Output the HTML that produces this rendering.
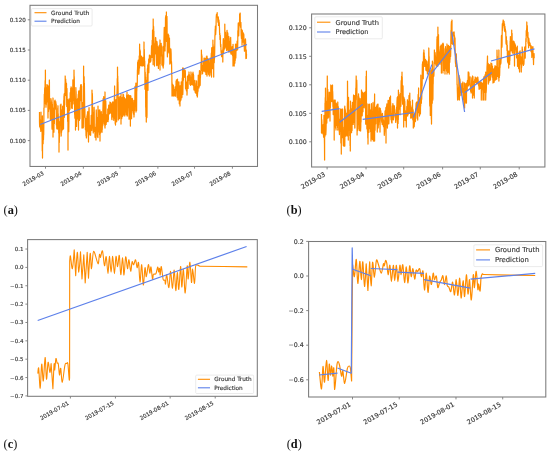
<!DOCTYPE html>
<html><head><meta charset="utf-8"><style>
html,body{margin:0;padding:0;background:#fff;width:550px;height:456px;overflow:hidden}
svg{display:block}
text{font-family:"DejaVu Sans","Liberation Sans",sans-serif;fill:#383838;stroke:#383838;stroke-width:0.15px}
text.lab{font-family:"Liberation Serif",serif;font-weight:normal;font-size:12.3px;fill:#111;stroke:none}
.lb{font-weight:bold}
</style></head><body>
<svg width="550" height="456" viewBox="0 0 550 456">
<defs>
<clipPath id="ca"><rect x="30" y="5" width="228" height="161.5"/></clipPath>
<clipPath id="cb"><rect x="311.6" y="13.7" width="233.6" height="153.3"/></clipPath>
<clipPath id="cc"><rect x="27.6" y="239.6" width="229.8" height="156.7"/></clipPath>
<clipPath id="cd"><rect x="308.6" y="241.5" width="237.2" height="155.5"/></clipPath>
</defs>
<g clip-path="url(#ca)">
<polyline points="39.50,112.00 39.50,121.66 39.62,125.67 39.74,126.91 39.86,119.76 39.98,124.69 40.10,126.79 40.22,123.44 40.34,126.52 40.46,128.15 40.58,129.25 40.70,128.75 40.82,131.36 40.94,126.13 41.00,112.00 41.06,125.43 41.18,123.08 41.30,128.67 41.42,129.88 41.54,128.19 41.66,121.92 41.78,120.83 41.90,122.55 42.02,121.09 42.14,138.04 42.26,151.07 42.38,115.81 42.50,133.14 42.50,158.00 42.62,129.98 42.74,124.14 42.86,126.82 42.98,128.81 43.10,143.71 43.22,128.66 43.34,123.61 43.46,139.82 43.58,135.16 43.70,134.68 43.82,126.02 43.94,107.89 44.06,108.00 44.18,107.28 44.30,94.32 44.42,95.66 44.54,93.96 44.66,89.26 44.78,87.52 44.90,87.99 45.02,87.74 45.14,80.51 45.26,88.27 45.38,100.08 45.40,70.00 45.50,104.00 45.62,91.88 45.74,102.59 45.86,95.52 45.98,107.19 46.10,92.93 46.22,104.92 46.34,104.07 46.46,89.63 46.58,87.66 46.70,89.90 46.82,94.24 46.94,84.55 47.06,88.84 47.18,92.57 47.30,88.86 47.42,92.98 47.54,101.96 47.66,85.25 47.78,90.05 47.90,103.93 48.00,118.00 48.02,100.80 48.14,92.47 48.26,100.73 48.38,103.01 48.50,111.59 48.62,106.45 48.74,90.04 48.86,89.68 48.98,85.78 49.10,95.21 49.22,97.38 49.34,80.77 49.40,80.00 49.46,90.63 49.58,101.66 49.70,109.08 49.82,101.88 49.94,102.31 50.06,107.28 50.18,111.85 50.30,118.70 50.42,119.66 50.54,117.35 50.66,114.07 50.78,119.40 50.90,98.52 51.02,99.50 51.14,101.97 51.26,100.50 51.38,105.50 51.50,102.18 51.62,110.45 51.74,110.00 51.86,116.54 51.98,127.72 52.10,129.11 52.22,119.72 52.34,104.58 52.46,124.04 52.58,122.51 52.70,114.81 52.82,117.02 52.94,115.24 53.00,98.00 53.00,137.00 53.06,125.52 53.18,124.68 53.30,123.71 53.42,114.73 53.54,120.03 53.66,108.28 53.78,116.34 53.90,132.19 54.02,114.19 54.14,109.03 54.26,115.99 54.38,123.44 54.50,112.58 54.62,100.94 54.74,108.26 54.86,101.34 54.98,101.46 55.10,100.18 55.22,107.07 55.34,104.60 55.46,108.79 55.58,108.29 55.70,101.50 55.82,101.98 55.94,108.02 56.06,109.49 56.18,103.89 56.30,108.97 56.42,125.04 56.54,124.15 56.66,123.37 56.78,128.56 56.90,123.53 57.02,121.11 57.14,126.11 57.26,129.17 57.38,115.90 57.50,126.51 57.62,119.72 57.74,108.04 57.86,108.45 57.98,105.75 58.10,128.49 58.22,113.67 58.34,117.45 58.46,118.17 58.58,119.49 58.70,132.95 58.82,129.57 58.94,121.05 59.00,152.00 59.06,125.20 59.18,134.89 59.30,142.60 59.42,132.31 59.54,133.99 59.66,124.93 59.78,123.12 59.90,122.19 60.02,123.60 60.14,123.06 60.26,124.99 60.38,104.77 60.50,116.62 60.62,110.61 60.74,109.51 60.86,117.96 60.98,132.45 61.00,104.00 61.10,136.13 61.22,135.77 61.34,124.11 61.46,123.93 61.58,132.26 61.70,119.41 61.82,111.93 61.94,113.83 62.06,110.06 62.18,112.90 62.30,109.63 62.42,121.83 62.54,129.85 62.66,106.16 62.78,108.24 62.90,115.45 63.02,124.71 63.14,124.47 63.26,127.61 63.38,115.51 63.50,128.92 63.62,112.88 63.74,100.40 63.86,104.21 63.98,95.87 64.10,95.92 64.22,93.81 64.34,117.30 64.46,103.14 64.58,98.70 64.70,105.13 64.82,95.33 64.94,91.91 65.06,84.03 65.18,82.97 65.20,76.00 65.30,84.74 65.42,80.80 65.54,80.78 65.66,79.01 65.78,83.12 65.90,81.80 66.02,95.50 66.14,92.36 66.26,92.29 66.38,84.96 66.50,83.43 66.62,96.68 66.74,106.50 66.86,91.53 66.98,88.44 67.10,97.56 67.22,106.58 67.34,102.59 67.46,106.69 67.58,115.74 67.70,121.48 67.82,99.77 67.94,116.03 68.00,150.00 68.06,105.71 68.18,100.58 68.30,104.44 68.42,103.46 68.54,108.31 68.66,104.14 68.78,131.64 68.90,120.86 69.02,98.94 69.14,109.27 69.26,105.23 69.38,110.39 69.50,106.47 69.62,106.41 69.74,109.59 69.86,100.30 69.98,109.30 70.10,103.16 70.22,92.73 70.34,95.03 70.46,101.54 70.58,98.84 70.70,88.46 70.82,97.72 70.94,94.95 71.06,86.88 71.18,89.27 71.30,94.47 71.42,95.76 71.54,95.80 71.66,108.06 71.78,95.48 71.90,88.04 72.02,93.87 72.14,99.84 72.26,108.45 72.38,98.27 72.50,88.79 72.62,101.41 72.74,100.57 72.86,79.90 72.98,90.73 73.10,103.95 73.22,96.55 73.34,92.31 73.46,100.30 73.58,85.54 73.70,93.68 73.82,97.15 73.94,85.73 74.00,70.00 74.06,76.79 74.18,76.35 74.30,78.61 74.42,98.14 74.54,101.26 74.66,114.25 74.78,115.26 74.90,118.21 75.02,104.52 75.14,115.17 75.26,117.23 75.38,111.39 75.50,102.16 75.50,130.00 75.62,100.79 75.74,95.17 75.86,87.60 75.98,92.74 76.10,91.59 76.22,112.54 76.34,112.41 76.46,116.16 76.58,126.41 76.70,121.11 76.82,121.41 76.94,113.89 77.06,105.68 77.18,102.44 77.30,102.08 77.42,98.98 77.54,99.76 77.66,102.82 77.78,118.85 77.90,116.96 78.02,108.89 78.14,98.50 78.26,95.17 78.38,94.02 78.50,96.90 78.50,130.00 78.62,92.24 78.74,91.76 78.86,90.76 78.98,103.79 79.10,117.53 79.22,116.22 79.34,120.44 79.46,102.74 79.58,110.42 79.70,109.26 79.82,114.24 79.94,118.78 80.06,90.18 80.18,94.85 80.30,87.61 80.42,96.69 80.54,87.56 80.66,84.90 80.78,89.58 80.90,99.09 81.02,100.60 81.14,90.46 81.26,84.51 81.38,98.60 81.50,99.08 81.62,86.09 81.74,99.85 81.86,106.15 81.98,118.39 82.00,128.00 82.10,111.53 82.22,122.61 82.34,103.87 82.46,112.10 82.58,102.73 82.70,113.03 82.82,127.91 82.94,112.13 83.06,109.45 83.18,108.56 83.30,127.78 83.42,118.94 83.54,93.71 83.60,66.00 83.66,102.84 83.78,116.40 83.90,105.47 84.02,77.83 84.14,76.72 84.26,102.31 84.38,83.33 84.50,92.43 84.62,102.68 84.74,117.85 84.86,108.88 84.98,116.50 85.10,118.18 85.22,127.09 85.34,126.28 85.46,129.65 85.58,119.37 85.70,118.37 85.82,118.64 85.94,130.90 86.06,136.01 86.18,128.47 86.30,134.84 86.42,137.97 86.54,136.22 86.66,133.00 86.78,130.64 86.90,115.90 87.02,118.64 87.14,121.48 87.26,114.48 87.38,122.27 87.50,112.47 87.62,113.60 87.74,111.60 87.86,131.31 87.98,115.98 88.10,122.32 88.22,131.55 88.34,134.49 88.46,139.09 88.50,142.00 88.58,127.61 88.70,113.25 88.82,121.64 88.94,109.71 89.06,107.64 89.18,116.01 89.30,126.96 89.42,134.79 89.54,125.53 89.66,133.93 89.78,133.28 89.90,129.93 90.02,128.97 90.14,125.31 90.26,130.72 90.38,132.22 90.50,126.40 90.62,135.26 90.74,125.89 90.86,127.40 90.98,130.21 91.10,122.61 91.22,115.34 91.34,130.71 91.46,130.17 91.58,125.32 91.70,115.30 91.82,121.19 91.94,119.98 92.00,90.00 92.06,105.54 92.18,93.20 92.30,93.68 92.42,95.76 92.54,110.86 92.66,127.28 92.78,128.13 92.90,130.71 93.02,124.14 93.14,123.89 93.26,132.90 93.38,112.50 93.50,123.22 93.62,119.67 93.74,120.07 93.86,114.95 93.98,107.43 94.10,107.24 94.22,111.07 94.34,131.25 94.46,130.64 94.58,129.61 94.70,127.08 94.82,127.42 94.94,131.96 95.06,137.35 95.18,131.75 95.30,133.47 95.42,132.71 95.54,129.72 95.66,127.50 95.78,128.79 95.90,132.59 96.00,140.00 96.02,123.95 96.14,123.81 96.26,109.92 96.38,113.83 96.50,120.59 96.62,122.34 96.74,125.00 96.86,130.15 96.98,123.04 97.10,120.69 97.22,125.60 97.34,134.56 97.46,136.76 97.58,117.70 97.70,117.23 97.82,127.20 97.94,137.54 98.00,106.00 98.06,134.42 98.18,125.21 98.30,113.60 98.42,116.36 98.54,127.99 98.66,130.14 98.78,131.11 98.90,126.60 99.02,131.81 99.14,110.08 99.26,114.09 99.38,115.64 99.50,111.72 99.62,134.72 99.74,119.93 99.86,109.93 99.98,116.06 100.00,141.00 100.10,128.03 100.22,118.90 100.34,126.03 100.46,131.41 100.58,132.93 100.70,119.54 100.82,114.44 100.94,131.06 101.06,118.41 101.18,111.63 101.30,111.77 101.42,120.49 101.54,123.13 101.66,129.65 101.78,119.76 101.90,128.29 102.02,132.32 102.14,116.74 102.26,129.40 102.38,122.43 102.50,114.47 102.62,114.39 102.74,125.86 102.86,110.78 102.98,107.63 103.10,102.12 103.22,98.30 103.34,99.54 103.46,105.25 103.58,107.88 103.70,96.59 103.82,103.34 103.94,121.91 104.06,120.03 104.18,124.04 104.30,122.73 104.42,122.37 104.54,111.14 104.66,118.82 104.78,116.95 104.90,127.32 105.00,92.00 105.00,128.00 105.02,125.53 105.14,112.10 105.26,113.34 105.38,125.26 105.50,112.41 105.62,107.11 105.74,100.83 105.86,103.96 105.98,113.56 106.10,124.46 106.22,121.83 106.34,122.48 106.46,120.75 106.58,121.43 106.70,114.99 106.82,120.98 106.94,121.27 107.06,121.48 107.18,116.90 107.30,116.89 107.42,115.40 107.54,120.26 107.66,120.30 107.78,109.06 107.90,111.89 108.02,121.74 108.14,119.45 108.26,120.03 108.38,119.14 108.50,108.25 108.62,108.62 108.74,105.12 108.86,105.15 108.98,107.32 109.10,111.06 109.22,109.24 109.34,113.98 109.46,112.06 109.58,108.28 109.70,112.50 109.82,107.63 109.94,109.55 110.00,102.00 110.06,104.46 110.18,105.66 110.30,112.95 110.42,110.99 110.54,109.38 110.66,102.60 110.78,108.46 110.90,106.51 111.02,104.38 111.14,111.48 111.26,113.37 111.38,105.26 111.50,103.77 111.62,108.28 111.74,118.31 111.86,119.54 111.98,119.70 112.10,111.75 112.22,111.56 112.34,109.83 112.46,102.09 112.58,103.61 112.70,116.99 112.82,107.95 112.94,108.31 113.06,101.87 113.18,103.59 113.30,110.01 113.42,108.49 113.54,113.41 113.66,117.88 113.78,120.28 113.90,112.17 114.02,118.20 114.14,114.00 114.26,106.14 114.38,96.71 114.50,101.99 114.60,86.00 114.62,98.25 114.74,118.42 114.86,111.97 114.98,109.89 115.10,107.27 115.22,123.78 115.34,105.96 115.46,103.82 115.50,125.00 115.58,112.63 115.70,104.86 115.82,101.53 115.94,99.60 116.06,105.92 116.18,107.27 116.30,110.50 116.42,114.80 116.54,114.09 116.66,121.85 116.78,112.83 116.90,95.55 117.02,91.78 117.14,87.63 117.26,78.54 117.38,92.71 117.50,93.57 117.50,67.00 117.62,86.80 117.74,76.09 117.86,82.39 117.98,83.52 118.10,90.59 118.22,99.34 118.30,120.00 118.34,98.30 118.46,107.35 118.58,98.09 118.70,97.49 118.82,106.75 118.94,108.29 119.06,102.64 119.18,102.48 119.30,103.91 119.42,118.62 119.54,118.38 119.66,116.03 119.78,114.66 119.90,96.38 120.02,101.83 120.14,99.13 120.26,100.84 120.38,108.47 120.50,111.04 120.62,106.29 120.74,114.29 120.86,106.01 120.98,112.21 121.00,94.00 121.00,124.00 121.10,103.28 121.22,108.53 121.34,98.80 121.46,112.67 121.58,114.08 121.70,118.69 121.82,110.30 121.94,105.91 122.06,112.71 122.18,97.95 122.30,97.36 122.42,106.44 122.54,109.85 122.66,116.60 122.78,112.79 122.90,115.86 123.00,94.00 123.02,109.18 123.14,99.00 123.26,100.55 123.38,97.41 123.50,94.73 123.62,97.35 123.74,114.99 123.86,100.46 123.98,97.66 124.10,100.62 124.22,97.57 124.34,97.62 124.46,106.81 124.58,113.50 124.70,105.72 124.82,116.04 124.94,107.97 125.06,109.37 125.18,105.43 125.30,106.25 125.42,98.79 125.54,101.16 125.66,101.60 125.78,105.53 125.90,111.95 126.02,110.84 126.14,107.48 126.26,114.65 126.38,107.86 126.50,100.96 126.62,96.75 126.74,94.88 126.86,103.44 126.98,110.74 127.00,92.00 127.10,116.12 127.22,114.72 127.34,115.84 127.46,110.19 127.58,100.76 127.70,104.95 127.82,107.25 127.94,98.57 128.06,104.14 128.18,95.46 128.30,95.47 128.42,94.87 128.54,94.83 128.66,99.41 128.78,107.83 128.90,112.24 129.02,119.15 129.14,119.21 129.26,107.77 129.38,104.95 129.50,95.64 129.62,101.06 129.74,112.46 129.86,115.13 129.98,109.37 130.10,106.24 130.22,108.65 130.34,95.61 130.40,126.00 130.46,98.75 130.58,101.86 130.70,98.02 130.82,95.92 130.94,98.99 131.06,98.69 131.18,99.21 131.30,106.00 131.42,107.63 131.54,118.72 131.66,110.37 131.78,98.64 131.90,105.33 132.02,110.83 132.14,106.08 132.26,98.26 132.38,98.95 132.50,106.15 132.62,104.21 132.74,103.99 132.86,102.89 132.98,104.82 133.10,103.61 133.22,112.54 133.34,110.22 133.46,114.08 133.58,109.44 133.70,103.91 133.82,100.41 133.94,106.97 134.00,117.00 134.06,105.91 134.18,114.62 134.30,104.97 134.42,102.07 134.54,101.35 134.66,110.40 134.78,104.06 134.90,97.12 135.02,86.46 135.14,94.46 135.26,105.35 135.38,102.88 135.50,95.13 135.62,93.69 135.74,88.13 135.86,83.18 135.98,93.47 136.00,112.00 136.10,96.75 136.22,96.84 136.34,83.27 136.46,89.92 136.58,110.62 136.70,91.84 136.82,90.46 136.94,83.27 137.06,87.07 137.18,85.63 137.30,82.20 137.42,69.85 137.54,69.93 137.66,62.54 137.78,61.78 137.90,62.01 138.02,70.54 138.14,63.38 138.26,60.10 138.38,72.90 138.50,69.39 138.62,65.79 138.74,74.26 138.86,74.08 138.98,71.70 139.10,70.54 139.22,55.91 139.34,58.49 139.46,67.31 139.58,67.96 139.60,44.00 139.70,54.02 139.82,56.47 139.94,50.30 140.06,49.93 140.18,52.01 140.30,51.14 140.42,59.88 140.54,59.33 140.66,63.26 140.78,65.56 140.90,63.49 141.02,65.63 141.14,59.16 141.26,59.62 141.38,57.35 141.50,56.13 141.62,58.89 141.74,61.98 141.86,65.94 141.98,63.93 142.10,64.46 142.22,64.20 142.34,64.17 142.46,63.13 142.58,61.53 142.70,58.22 142.82,58.37 142.94,57.31 143.00,66.00 143.06,59.11 143.18,61.24 143.30,62.74 143.42,58.48 143.54,65.48 143.66,64.48 143.78,59.13 143.90,64.55 144.00,42.00 144.02,54.43 144.14,49.92 144.26,49.40 144.38,55.61 144.50,59.93 144.62,66.50 144.74,61.08 144.86,69.48 144.98,89.21 145.10,72.58 145.22,72.15 145.34,78.27 145.46,78.45 145.58,77.05 145.70,107.13 145.82,107.72 145.94,116.37 146.06,101.31 146.18,102.46 146.30,108.14 146.30,122.00 146.42,95.67 146.54,88.86 146.66,80.24 146.78,117.66 146.90,117.44 147.02,114.77 147.14,74.44 147.26,87.79 147.38,69.11 147.50,68.28 147.62,78.23 147.74,65.18 147.86,77.32 147.98,90.30 148.10,65.12 148.22,63.92 148.34,65.67 148.46,64.78 148.58,72.50 148.70,59.21 148.82,72.73 148.94,68.18 149.06,59.19 149.18,58.36 149.30,61.90 149.42,55.04 149.54,55.33 149.66,56.79 149.78,61.08 149.90,61.09 150.02,59.10 150.14,62.25 150.26,57.23 150.38,55.82 150.50,61.75 150.62,60.56 150.74,61.29 150.86,61.08 150.98,58.17 151.10,56.72 151.22,56.35 151.34,53.80 151.46,48.94 151.58,45.51 151.70,50.54 151.82,50.60 151.94,52.47 152.06,57.28 152.18,40.37 152.30,47.16 152.42,45.95 152.54,30.06 152.66,31.11 152.78,40.46 152.90,46.01 153.02,54.00 153.14,64.69 153.20,19.00 153.26,56.11 153.38,54.07 153.50,26.03 153.62,27.56 153.74,34.78 153.86,31.18 153.98,41.63 154.10,51.67 154.22,51.99 154.34,60.39 154.46,49.33 154.50,66.00 154.58,58.63 154.70,52.88 154.82,45.01 154.94,51.25 155.06,45.38 155.18,53.98 155.30,42.95 155.42,44.32 155.54,37.76 155.66,37.51 155.78,38.35 155.90,44.78 156.02,51.24 156.14,40.95 156.26,42.83 156.38,51.42 156.50,59.62 156.62,64.29 156.74,65.69 156.86,51.00 156.98,41.52 157.10,43.36 157.22,44.19 157.34,52.61 157.46,55.12 157.58,63.86 157.70,65.00 157.82,61.98 157.94,54.73 158.06,46.94 158.18,65.21 158.30,64.94 158.42,68.36 158.54,63.99 158.66,61.23 158.78,57.56 158.90,54.45 159.02,47.79 159.14,47.96 159.26,45.35 159.38,48.81 159.50,51.20 159.62,58.99 159.74,58.29 159.86,64.90 159.98,40.63 160.00,40.00 160.00,70.00 160.10,47.78 160.22,63.76 160.34,51.92 160.46,49.82 160.58,56.34 160.70,48.72 160.82,55.35 160.94,43.68 161.06,53.65 161.18,43.33 161.30,52.29 161.42,52.41 161.54,50.28 161.66,53.22 161.78,45.88 161.90,65.06 162.02,62.94 162.14,61.46 162.26,63.56 162.38,60.69 162.50,55.40 162.62,55.43 162.74,62.03 162.86,66.42 162.98,61.74 163.10,55.29 163.20,68.00 163.22,46.96 163.34,66.31 163.46,61.50 163.58,64.40 163.70,62.94 163.82,56.12 163.94,39.80 164.06,34.44 164.18,29.98 164.30,27.34 164.42,50.03 164.54,47.45 164.66,34.67 164.78,38.34 164.90,44.58 165.02,50.97 165.14,33.87 165.26,46.21 165.38,33.69 165.50,17.70 165.62,26.33 165.74,15.84 165.86,19.99 165.98,32.41 166.10,23.62 166.22,17.04 166.34,30.94 166.40,12.00 166.46,34.11 166.58,41.40 166.70,21.15 166.82,35.86 166.94,16.38 167.06,21.94 167.18,41.09 167.30,52.43 167.42,56.86 167.54,51.13 167.66,43.12 167.78,37.95 167.90,51.53 168.02,50.70 168.14,48.74 168.26,34.24 168.38,37.58 168.50,45.26 168.62,38.31 168.74,35.26 168.86,51.40 168.98,52.83 169.10,50.19 169.22,41.16 169.34,37.92 169.46,38.27 169.58,51.58 169.70,47.79 169.82,64.02 169.94,56.41 170.06,54.42 170.18,62.82 170.30,61.32 170.42,55.04 170.54,55.56 170.66,61.22 170.78,48.84 170.90,49.38 171.02,51.40 171.14,53.43 171.26,63.75 171.38,61.52 171.50,61.65 171.62,65.53 171.74,75.08 171.86,75.56 171.98,90.88 172.00,96.00 172.10,82.76 172.22,93.35 172.34,85.50 172.46,84.26 172.58,87.17 172.70,90.30 172.82,95.95 172.94,91.89 173.06,92.36 173.18,90.31 173.30,85.16 173.42,88.25 173.50,96.00 173.54,88.77 173.66,93.94 173.78,90.03 173.90,91.80 174.02,94.71 174.14,95.30 174.26,94.16 174.38,89.64 174.50,94.15 174.62,94.07 174.74,95.84 174.86,93.06 174.98,92.50 175.10,86.79 175.22,87.42 175.34,91.28 175.46,91.38 175.58,95.26 175.70,96.16 175.82,90.99 175.94,89.82 176.06,81.20 176.18,84.34 176.30,83.98 176.42,79.87 176.54,84.53 176.66,86.57 176.78,89.47 176.90,87.56 177.02,88.98 177.14,90.62 177.26,97.62 177.38,92.57 177.50,92.26 177.50,79.00 177.62,94.47 177.74,83.13 177.86,85.05 177.98,99.87 178.10,87.48 178.22,91.82 178.34,86.32 178.46,82.00 178.58,90.58 178.70,84.83 178.82,91.14 178.94,81.97 179.06,87.43 179.18,90.37 179.30,103.78 179.42,99.42 179.54,102.01 179.66,102.86 179.78,99.95 179.90,87.53 180.00,106.00 180.02,99.28 180.14,88.68 180.26,85.75 180.38,92.92 180.50,100.89 180.62,93.76 180.74,93.33 180.86,91.30 180.98,99.87 181.10,92.49 181.22,81.93 181.34,89.66 181.46,91.29 181.58,91.37 181.70,83.34 181.82,97.53 181.94,96.76 182.06,89.02 182.18,83.66 182.30,78.03 182.42,78.99 182.54,76.85 182.60,68.00 182.66,82.19 182.78,94.36 182.90,91.15 183.02,79.94 183.14,68.55 183.26,71.65 183.38,80.19 183.40,68.00 183.50,77.74 183.62,73.34 183.74,75.17 183.86,71.05 183.98,72.93 184.10,77.27 184.22,75.63 184.34,73.27 184.46,76.19 184.58,73.00 184.70,69.66 184.82,71.34 184.94,76.14 185.06,77.07 185.18,70.36 185.30,70.77 185.42,76.09 185.54,88.50 185.66,80.67 185.78,83.08 185.90,81.44 186.02,87.00 186.14,89.55 186.26,87.72 186.38,90.75 186.50,86.38 186.62,82.54 186.74,85.54 186.86,88.17 186.98,85.56 187.00,95.00 187.10,92.77 187.22,83.45 187.34,85.48 187.46,76.38 187.58,77.38 187.70,82.46 187.82,85.55 187.94,78.72 188.06,88.46 188.18,81.76 188.30,75.05 188.42,79.23 188.54,80.44 188.66,79.45 188.78,79.07 188.90,80.14 189.00,72.00 189.02,79.29 189.14,78.50 189.26,74.33 189.38,75.31 189.50,78.67 189.62,75.49 189.74,78.46 189.86,84.16 189.98,81.92 190.10,82.82 190.22,82.02 190.34,84.68 190.46,81.10 190.58,85.40 190.70,84.82 190.82,83.56 190.94,79.38 191.00,72.00 191.06,74.65 191.18,77.27 191.30,79.54 191.42,78.80 191.54,82.61 191.66,79.64 191.78,84.58 191.90,84.24 192.02,83.59 192.14,83.19 192.26,82.39 192.38,81.14 192.50,73.54 192.62,75.14 192.74,81.60 192.86,84.88 192.98,82.93 193.00,72.00 193.10,85.26 193.22,79.76 193.34,73.81 193.46,77.60 193.58,75.06 193.70,82.18 193.82,86.57 193.94,89.87 194.06,87.57 194.18,84.82 194.30,85.64 194.42,80.88 194.54,89.68 194.66,89.71 194.78,90.37 194.90,80.43 195.02,84.95 195.14,92.28 195.26,87.61 195.38,91.34 195.50,90.76 195.62,88.55 195.74,91.39 195.86,92.84 195.98,93.40 196.10,91.08 196.22,89.77 196.34,83.30 196.46,83.67 196.58,80.99 196.70,87.42 196.82,95.40 196.94,90.91 197.06,94.88 197.18,86.26 197.30,95.57 197.30,97.00 197.42,95.95 197.54,93.75 197.66,92.49 197.78,89.23 197.90,90.71 198.02,91.31 198.14,87.86 198.26,75.20 198.38,75.40 198.50,78.55 198.62,81.57 198.74,80.14 198.86,82.44 198.98,87.86 199.10,83.66 199.22,86.82 199.34,73.99 199.46,70.67 199.58,70.87 199.70,78.87 199.82,72.64 199.94,79.85 200.06,85.53 200.18,84.51 200.30,77.14 200.42,77.85 200.54,74.03 200.66,73.87 200.78,71.35 200.90,74.51 201.02,62.34 201.14,68.29 201.26,63.13 201.38,68.30 201.40,50.00 201.50,55.81 201.62,54.01 201.74,56.18 201.86,63.76 201.98,55.82 202.10,68.10 202.22,70.78 202.34,66.88 202.46,73.86 202.58,73.29 202.70,70.28 202.82,66.77 202.94,70.60 203.06,67.52 203.18,65.30 203.30,68.18 203.42,69.30 203.54,64.90 203.66,61.83 203.78,65.52 203.90,71.15 204.02,58.09 204.14,62.51 204.26,61.92 204.38,66.15 204.50,70.30 204.62,70.03 204.74,64.67 204.86,58.13 204.98,65.92 205.10,71.87 205.22,70.21 205.34,67.06 205.46,65.53 205.58,58.69 205.70,61.07 205.82,68.58 205.94,74.40 206.06,64.98 206.18,72.60 206.30,67.62 206.42,56.63 206.54,62.30 206.66,57.10 206.78,58.03 206.90,59.43 207.00,56.00 207.00,76.00 207.02,60.93 207.14,60.13 207.26,72.29 207.38,67.53 207.50,70.15 207.62,70.22 207.74,67.23 207.86,58.27 207.98,65.49 208.10,58.82 208.22,59.44 208.34,60.02 208.46,74.25 208.58,69.50 208.70,59.66 208.82,67.34 208.94,63.29 209.06,62.78 209.18,63.42 209.30,64.58 209.30,76.00 209.42,63.92 209.54,65.49 209.66,67.51 209.78,71.79 209.90,68.89 210.02,64.44 210.14,58.20 210.26,62.04 210.38,61.73 210.50,65.31 210.62,68.61 210.74,73.19 210.86,73.61 210.98,75.18 211.10,64.43 211.22,55.27 211.34,53.04 211.46,53.41 211.50,77.00 211.58,59.93 211.70,47.85 211.82,49.44 211.94,62.86 212.06,52.03 212.18,49.26 212.30,47.45 212.42,53.96 212.54,54.91 212.66,63.87 212.78,68.72 212.90,60.47 212.90,40.00 213.02,55.05 213.14,44.61 213.26,52.95 213.38,68.18 213.50,62.78 213.62,46.87 213.70,77.00 213.74,50.54 213.86,56.71 213.98,53.38 214.10,53.26 214.22,62.63 214.34,59.54 214.46,58.77 214.58,55.87 214.70,50.96 214.82,42.53 214.94,34.95 215.06,35.97 215.18,29.21 215.30,29.51 215.42,26.03 215.54,30.76 215.66,34.47 215.78,32.03 215.90,30.34 216.02,28.58 216.14,21.46 216.26,16.77 216.38,15.44 216.50,14.27 216.62,15.53 216.74,15.66 216.86,13.97 216.98,15.47 217.10,13.94 217.20,12.70 217.22,16.78 217.34,17.06 217.46,16.99 217.58,17.56 217.70,17.85 217.82,20.32 217.94,22.15 218.06,20.89 218.18,19.23 218.30,16.91 218.42,19.97 218.54,25.41 218.66,22.96 218.78,20.85 218.90,19.98 219.02,21.84 219.14,24.51 219.26,22.59 219.38,26.13 219.50,28.84 219.62,34.50 219.74,33.00 219.86,33.67 219.98,39.40 220.10,35.74 220.22,35.32 220.34,37.59 220.46,43.68 220.58,46.58 220.70,44.29 220.82,44.39 220.94,48.18 221.06,52.20 221.18,50.08 221.30,54.18 221.42,51.48 221.54,51.27 221.66,56.64 221.78,52.19 221.90,53.31 222.02,54.04 222.14,53.00 222.26,50.94 222.38,52.50 222.50,51.65 222.62,51.45 222.74,49.70 222.80,62.00 222.86,53.62 222.98,47.47 223.10,47.11 223.22,40.83 223.34,38.54 223.46,47.40 223.58,53.45 223.70,46.95 223.82,49.81 223.94,43.77 224.06,50.05 224.18,44.19 224.30,43.53 224.42,48.08 224.54,40.38 224.66,48.63 224.78,40.68 224.80,24.00 224.90,41.94 225.02,39.42 225.14,38.73 225.26,39.91 225.38,39.34 225.50,32.43 225.62,39.30 225.74,44.29 225.86,47.10 225.98,44.46 226.10,35.14 226.22,44.22 226.34,48.46 226.46,44.08 226.58,50.38 226.70,42.77 226.82,39.19 226.94,30.79 227.06,30.33 227.18,49.24 227.30,49.82 227.42,41.40 227.54,39.99 227.66,34.27 227.78,32.93 227.90,34.78 228.02,43.59 228.14,45.72 228.26,50.68 228.38,48.66 228.50,45.84 228.62,51.99 228.74,43.71 228.86,36.66 228.98,38.18 229.10,38.13 229.22,41.22 229.34,41.22 229.46,44.81 229.58,49.50 229.70,51.77 229.82,46.63 229.94,45.12 230.06,52.05 230.18,45.82 230.30,44.65 230.42,42.77 230.54,42.42 230.66,37.47 230.78,43.78 230.90,53.61 231.02,54.13 231.14,49.70 231.26,49.35 231.38,53.06 231.50,50.84 231.62,54.10 231.74,50.34 231.86,48.46 231.98,48.56 232.10,46.73 232.22,48.71 232.34,49.69 232.46,52.09 232.58,55.66 232.70,49.78 232.82,53.01 232.94,55.17 233.00,66.00 233.06,44.33 233.18,57.13 233.30,60.05 233.42,53.44 233.54,60.13 233.66,58.95 233.78,55.00 233.90,50.94 234.02,51.59 234.14,56.30 234.20,66.00 234.26,49.37 234.38,57.15 234.50,62.22 234.62,63.54 234.74,58.99 234.86,62.92 234.98,58.96 235.10,51.64 235.22,60.52 235.34,57.60 235.46,58.30 235.50,44.00 235.58,54.78 235.70,56.10 235.82,58.05 235.94,53.42 236.06,45.63 236.18,44.30 236.30,48.56 236.42,45.56 236.54,45.66 236.66,45.22 236.78,50.50 236.90,44.03 237.02,45.10 237.14,41.03 237.26,48.98 237.38,45.29 237.50,46.02 237.62,49.65 237.74,43.79 237.86,31.11 237.98,30.32 238.10,30.89 238.22,23.83 238.34,22.86 238.46,30.95 238.58,34.57 238.70,35.80 238.82,31.14 238.94,25.34 239.06,24.66 239.18,24.45 239.30,24.66 239.42,25.16 239.54,23.19 239.66,13.78 239.78,17.44 239.90,14.13 240.02,20.83 240.14,18.50 240.20,13.00 240.26,21.12 240.38,25.11 240.50,27.23 240.62,26.36 240.74,25.97 240.86,22.28 240.98,25.08 241.10,31.96 241.22,35.71 241.34,36.47 241.46,38.49 241.58,31.91 241.70,29.55 241.82,31.95 241.94,37.26 242.06,45.13 242.18,31.62 242.30,30.49 242.42,31.39 242.54,34.82 242.66,40.58 242.78,42.10 242.90,39.95 243.02,33.04 243.14,37.80 243.26,32.90 243.38,36.83 243.50,35.23 243.62,41.94 243.74,33.99 243.86,35.50 243.98,46.21 244.10,46.02 244.22,43.24 244.34,48.94 244.46,51.24 244.58,50.47 244.70,49.55 244.82,41.84 244.94,39.76 245.06,43.04 245.18,45.23 245.30,50.50 245.42,38.93 245.54,39.96 245.66,43.06 245.78,51.88 245.90,58.57 246.02,57.16 246.14,52.26 246.26,49.98 246.38,58.28 246.50,53.81" fill="none" stroke="#ff8c00" stroke-width="1.25" stroke-linejoin="round"/>
<polyline points="40.10,124.50 247.00,44.50" fill="none" stroke="#5d80ea" stroke-width="1.2" stroke-linejoin="round"/>
</g>
<g clip-path="url(#cb)">
<polyline points="321.50,114.00 321.50,133.00 321.50,124.58 321.63,121.53 321.76,119.51 321.89,122.25 322.02,132.50 322.15,128.21 322.28,125.91 322.41,129.94 322.54,130.77 322.67,126.97 322.80,133.86 322.93,132.85 323.06,131.14 323.19,124.60 323.32,130.43 323.45,130.20 323.58,137.16 323.71,128.12 323.84,129.62 323.97,115.37 324.10,129.63 324.23,132.38 324.36,137.69 324.49,144.42 324.60,160.00 324.62,122.04 324.75,136.01 324.88,136.62 325.01,103.14 325.14,106.08 325.27,97.51 325.40,112.29 325.50,88.00 325.53,113.12 325.66,128.09 325.79,134.79 325.92,132.82 326.05,129.90 326.18,123.38 326.31,123.19 326.44,107.14 326.57,101.12 326.70,103.41 326.83,123.05 326.96,110.34 327.09,94.13 327.22,85.97 327.30,76.00 327.35,100.57 327.48,97.49 327.61,115.84 327.74,89.38 327.87,105.65 328.00,118.19 328.13,98.69 328.26,101.15 328.39,115.63 328.52,114.95 328.65,117.25 328.78,99.85 328.91,103.34 329.04,100.25 329.17,92.19 329.30,100.72 329.43,98.98 329.56,97.68 329.69,97.37 329.82,105.13 329.95,93.80 330.00,121.00 330.08,92.51 330.21,100.29 330.34,107.84 330.47,104.30 330.60,99.76 330.73,96.50 330.80,85.00 330.86,91.78 330.99,94.41 331.12,94.34 331.25,88.30 331.38,85.60 331.51,96.53 331.64,98.83 331.77,101.45 331.90,99.59 332.03,95.13 332.16,101.72 332.29,100.93 332.42,95.41 332.50,85.00 332.55,95.62 332.68,91.30 332.81,95.82 332.94,106.60 333.07,102.42 333.20,114.58 333.33,111.17 333.46,113.88 333.59,108.73 333.72,108.34 333.85,110.46 333.98,107.58 334.11,101.49 334.20,100.00 334.20,140.00 334.24,104.30 334.37,103.44 334.50,112.06 334.63,109.50 334.76,113.99 334.89,122.28 335.02,126.31 335.15,112.45 335.20,100.00 335.28,115.28 335.41,111.64 335.54,128.04 335.67,117.98 335.80,126.11 335.93,117.13 336.00,130.00 336.06,120.13 336.19,103.10 336.32,112.20 336.45,111.33 336.58,103.76 336.71,119.33 336.84,125.36 336.97,124.62 337.10,117.32 337.23,116.80 337.36,115.33 337.49,121.50 337.62,127.54 337.75,120.55 337.80,102.00 337.80,130.00 337.88,115.71 338.01,112.10 338.14,106.22 338.27,107.18 338.40,108.71 338.53,115.36 338.66,124.86 338.79,119.58 338.92,123.97 339.05,121.06 339.18,131.12 339.31,130.55 339.44,134.59 339.57,126.12 339.70,119.21 339.83,122.06 339.96,119.14 340.09,123.77 340.22,109.62 340.35,118.75 340.40,109.00 340.48,110.16 340.61,132.03 340.74,128.91 340.87,142.94 341.00,124.77 341.13,131.47 341.26,120.16 341.30,109.00 341.30,154.00 341.39,114.97 341.52,117.10 341.65,114.49 341.78,119.60 341.91,129.87 342.04,137.36 342.17,134.80 342.30,117.69 342.43,109.59 342.56,109.55 342.60,109.00 342.69,129.85 342.82,137.91 342.95,134.01 343.08,130.43 343.21,140.61 343.34,145.55 343.47,145.84 343.60,132.52 343.73,135.36 343.86,138.26 343.99,127.15 344.00,146.00 344.12,138.69 344.25,142.98 344.38,118.30 344.51,120.40 344.64,107.32 344.77,122.74 344.80,106.00 344.80,146.00 344.90,132.46 345.03,118.38 345.16,108.84 345.29,111.89 345.42,110.67 345.55,129.02 345.68,136.13 345.81,131.21 345.94,135.97 346.07,113.05 346.20,117.27 346.33,126.37 346.46,123.82 346.59,116.50 346.72,120.97 346.85,133.97 346.98,134.19 347.11,116.07 347.24,135.79 347.37,102.63 347.50,109.95 347.50,81.00 347.63,100.38 347.76,117.78 347.89,102.87 348.02,126.61 348.15,130.18 348.28,99.28 348.30,140.00 348.41,100.63 348.54,97.46 348.67,118.54 348.80,118.98 348.93,118.43 349.06,114.17 349.19,121.95 349.32,126.90 349.45,130.79 349.58,117.86 349.71,135.58 349.84,129.13 349.97,109.88 350.10,145.87 350.23,142.27 350.30,151.00 350.36,132.24 350.49,101.08 350.62,113.65 350.75,121.83 350.88,114.08 351.01,108.51 351.14,121.94 351.27,115.32 351.40,110.77 351.53,132.74 351.66,120.91 351.79,130.71 351.92,124.48 352.05,130.55 352.18,105.40 352.31,108.15 352.44,102.37 352.57,112.80 352.70,106.65 352.83,112.77 352.96,113.70 353.09,115.29 353.22,124.37 353.35,113.30 353.48,98.47 353.60,95.00 353.61,111.62 353.74,107.89 353.87,117.55 354.00,115.25 354.13,122.37 354.26,107.63 354.39,102.96 354.52,95.58 354.65,106.16 354.78,127.41 354.91,128.00 355.04,117.69 355.17,108.71 355.30,108.46 355.43,95.61 355.56,99.95 355.69,93.73 355.82,88.01 355.95,91.35 356.08,83.27 356.20,76.00 356.21,90.92 356.34,86.43 356.47,81.00 356.60,81.79 356.73,80.09 356.86,84.77 356.99,113.42 357.10,135.00 357.12,126.59 357.25,120.11 357.38,129.82 357.51,117.01 357.64,128.95 357.77,130.52 357.90,111.11 358.03,120.46 358.16,128.93 358.29,96.21 358.42,96.60 358.55,93.88 358.68,113.07 358.81,101.52 358.94,96.89 359.07,104.60 359.20,109.09 359.33,124.65 359.46,119.32 359.59,130.60 359.72,129.43 359.85,130.34 359.98,117.00 360.11,98.74 360.24,104.14 360.37,113.01 360.50,128.35 360.60,131.00 360.63,129.12 360.76,127.22 360.89,116.18 361.02,122.31 361.15,115.32 361.28,108.17 361.41,105.94 361.50,90.00 361.54,96.36 361.67,109.63 361.80,112.39 361.93,110.67 362.06,113.28 362.19,115.83 362.32,111.16 362.45,100.46 362.58,92.04 362.71,103.27 362.84,107.18 362.97,111.69 363.10,97.68 363.23,99.71 363.36,103.70 363.49,96.08 363.62,98.88 363.75,93.20 363.88,104.54 364.01,99.86 364.14,101.47 364.27,107.79 364.40,104.06 364.53,94.82 364.66,92.33 364.79,100.58 364.92,100.60 365.05,103.01 365.18,91.93 365.31,93.53 365.44,101.96 365.57,102.00 365.70,124.24 365.83,119.44 365.96,102.28 366.09,76.32 366.22,96.69 366.35,95.45 366.40,71.00 366.48,114.54 366.61,121.89 366.74,117.04 366.87,128.49 367.00,121.85 367.13,125.23 367.26,129.62 367.39,115.44 367.52,131.95 367.65,128.71 367.78,137.94 367.91,136.35 368.00,104.00 368.00,144.00 368.04,139.94 368.17,124.51 368.30,124.98 368.43,117.79 368.56,119.40 368.69,114.04 368.82,118.35 368.95,132.31 369.08,116.14 369.21,127.30 369.34,104.30 369.47,125.54 369.50,104.00 369.60,123.82 369.73,123.74 369.86,128.50 369.99,109.50 370.12,110.39 370.25,113.25 370.38,128.29 370.51,126.44 370.64,131.84 370.77,119.87 370.90,118.11 371.00,141.00 371.03,113.65 371.16,122.41 371.29,111.17 371.42,103.66 371.55,112.22 371.68,133.73 371.81,136.67 371.94,138.37 372.07,132.30 372.20,138.28 372.33,139.40 372.46,124.23 372.59,127.72 372.72,115.46 372.85,109.11 372.98,102.74 373.11,111.22 373.24,127.70 373.30,141.00 373.37,136.70 373.50,119.07 373.63,140.40 373.76,140.96 373.89,125.79 374.02,129.90 374.15,127.48 374.28,115.66 374.41,101.00 374.54,103.06 374.60,94.00 374.60,141.00 374.67,108.90 374.80,114.93 374.93,122.81 375.06,130.20 375.19,122.71 375.32,123.56 375.45,119.62 375.58,109.98 375.71,107.37 375.84,123.78 375.97,108.04 376.10,112.22 376.23,115.21 376.36,109.31 376.49,106.56 376.62,112.69 376.75,105.70 376.88,107.38 377.01,111.53 377.14,104.52 377.27,132.08 377.40,125.26 377.53,125.13 377.66,122.07 377.79,118.07 377.92,128.01 378.00,104.00 378.05,122.82 378.18,127.72 378.31,125.20 378.44,116.42 378.57,124.67 378.70,119.08 378.83,121.85 378.96,118.70 379.09,111.83 379.22,114.21 379.35,107.98 379.48,108.64 379.61,111.59 379.74,111.14 379.87,108.12 380.00,108.29 380.00,132.00 380.13,120.18 380.26,108.37 380.39,110.70 380.52,111.70 380.65,114.95 380.78,110.53 380.91,112.07 381.04,118.13 381.17,117.13 381.30,113.91 381.43,118.97 381.56,121.14 381.69,119.63 381.82,122.41 381.95,116.71 382.08,121.46 382.21,124.54 382.34,121.43 382.47,113.43 382.60,124.36 382.73,124.62 382.86,120.02 382.99,116.03 383.12,122.19 383.25,119.38 383.38,121.29 383.51,126.65 383.64,121.22 383.77,120.85 383.90,122.33 384.03,123.38 384.16,127.90 384.29,135.33 384.42,131.38 384.55,132.92 384.68,129.44 384.81,119.80 384.94,114.25 385.07,110.93 385.20,118.59 385.33,116.06 385.46,113.25 385.59,120.31 385.72,112.36 385.85,108.53 385.98,107.35 386.00,143.00 386.11,114.07 386.24,121.79 386.37,109.16 386.50,112.07 386.63,108.77 386.76,105.34 386.89,103.93 387.02,119.60 387.15,114.19 387.28,121.28 387.41,128.10 387.54,121.53 387.67,124.56 387.80,118.35 387.93,111.35 388.06,100.47 388.19,110.07 388.32,106.47 388.45,101.96 388.58,101.86 388.71,118.71 388.84,123.76 388.97,120.58 389.10,113.37 389.23,100.16 389.36,103.76 389.49,106.87 389.62,97.64 389.75,108.66 389.88,115.10 390.01,106.48 390.14,102.24 390.27,99.56 390.40,101.98 390.50,96.00 390.53,101.73 390.66,103.18 390.79,115.78 390.92,117.66 391.05,119.71 391.18,118.15 391.31,115.91 391.44,117.89 391.57,122.26 391.70,119.84 391.83,117.92 391.96,113.44 392.00,123.00 392.09,113.67 392.22,108.66 392.35,105.86 392.48,110.95 392.61,111.80 392.74,105.92 392.87,103.65 393.00,104.66 393.13,107.68 393.26,119.34 393.39,119.84 393.52,111.19 393.65,112.33 393.78,109.33 393.91,112.18 394.04,108.79 394.17,105.64 394.30,106.29 394.43,106.43 394.56,112.86 394.69,109.46 394.82,110.01 394.95,117.06 395.08,115.20 395.21,113.14 395.34,116.48 395.47,119.20 395.60,119.86 395.73,122.43 395.86,121.44 395.99,119.57 396.12,120.28 396.25,117.10 396.38,117.73 396.51,108.36 396.64,107.23 396.77,107.59 396.90,105.26 397.03,100.82 397.16,98.82 397.29,97.43 397.42,102.20 397.50,128.00 397.55,104.62 397.68,98.80 397.81,96.39 397.94,110.07 398.07,123.45 398.20,116.23 398.33,119.83 398.40,90.00 398.46,103.30 398.59,92.52 398.72,92.40 398.85,107.58 398.98,98.95 399.11,94.25 399.24,109.24 399.37,95.96 399.50,102.86 399.63,107.47 399.76,106.53 399.89,108.45 400.02,114.85 400.15,107.45 400.28,104.30 400.41,100.47 400.54,93.33 400.67,95.39 400.80,106.48 400.93,105.44 401.06,87.09 401.19,80.61 401.32,85.29 401.45,89.61 401.58,76.26 401.71,76.30 401.84,80.15 401.97,85.17 402.00,72.00 402.10,91.00 402.23,77.19 402.36,99.59 402.49,101.76 402.62,104.24 402.75,93.68 402.88,94.34 403.01,85.88 403.14,97.58 403.27,98.73 403.40,97.57 403.53,96.77 403.66,115.61 403.70,127.00 403.79,111.83 403.92,99.45 404.05,97.68 404.18,105.77 404.31,108.04 404.44,104.98 404.57,99.22 404.70,106.16 404.83,101.49 404.96,109.16 405.09,120.42 405.22,116.48 405.35,110.65 405.48,112.69 405.61,120.24 405.74,119.40 405.87,119.85 406.00,118.88 406.13,120.80 406.26,125.06 406.30,127.00 406.39,117.44 406.52,112.41 406.65,112.09 406.78,106.40 406.91,107.40 407.04,111.03 407.17,110.05 407.30,105.13 407.43,99.75 407.56,111.70 407.69,116.02 407.82,107.05 407.95,101.14 408.08,112.65 408.21,109.12 408.34,109.35 408.47,114.11 408.60,103.75 408.73,103.79 408.86,108.47 408.99,96.17 409.12,95.46 409.25,101.42 409.38,108.99 409.51,104.52 409.64,106.30 409.77,113.47 409.80,93.00 409.90,110.25 410.03,101.77 410.16,102.62 410.29,101.49 410.42,110.49 410.55,111.66 410.68,107.52 410.70,118.00 410.81,115.24 410.94,111.79 411.07,114.01 411.20,117.06 411.33,115.67 411.46,115.81 411.59,117.84 411.72,116.41 411.85,107.86 411.98,106.81 412.11,106.00 412.24,105.40 412.37,106.57 412.50,103.49 412.50,100.00 412.63,112.98 412.76,119.80 412.89,109.00 413.02,111.41 413.15,110.02 413.28,122.07 413.30,128.00 413.41,123.94 413.54,120.03 413.67,117.80 413.80,114.36 413.93,120.35 414.06,126.43 414.19,126.76 414.32,124.36 414.45,122.84 414.58,122.81 414.71,118.05 414.84,117.97 414.97,113.84 415.10,115.59 415.23,119.38 415.36,119.83 415.49,121.28 415.62,110.40 415.75,108.41 415.88,108.19 416.01,104.82 416.14,102.95 416.27,107.06 416.40,107.70 416.53,106.53 416.66,103.36 416.79,102.65 416.92,101.76 417.05,112.38 417.18,118.35 417.31,115.58 417.44,109.29 417.57,111.13 417.70,106.96 417.70,120.00 417.83,104.23 417.96,109.09 418.09,96.27 418.22,94.28 418.35,94.78 418.48,104.46 418.60,88.00 418.61,112.35 418.74,112.56 418.87,105.35 419.00,101.69 419.13,110.68 419.26,106.40 419.39,110.55 419.50,116.00 419.52,104.16 419.65,112.18 419.78,106.89 419.91,101.48 420.04,97.58 420.17,102.87 420.30,104.45 420.43,113.94 420.56,101.37 420.69,105.99 420.82,75.13 420.95,86.99 421.08,88.22 421.21,86.07 421.34,103.33 421.47,98.88 421.60,93.47 421.73,99.30 421.86,89.07 421.99,83.70 422.12,86.10 422.25,73.06 422.38,63.96 422.51,74.69 422.64,61.95 422.77,69.31 422.90,73.13 423.03,76.79 423.16,77.39 423.29,78.71 423.42,60.69 423.55,52.73 423.68,54.93 423.81,62.80 423.90,50.00 423.94,53.39 424.07,53.11 424.20,53.00 424.33,64.10 424.46,56.15 424.59,62.57 424.72,66.49 424.85,59.76 424.98,62.07 425.11,60.36 425.24,62.42 425.37,60.84 425.50,59.26 425.63,60.81 425.76,63.07 425.89,70.21 426.02,69.55 426.15,69.49 426.28,66.35 426.41,66.11 426.54,70.75 426.67,60.90 426.80,64.33 426.93,61.37 427.06,61.84 427.19,63.69 427.32,68.52 427.40,74.00 427.45,69.33 427.58,66.09 427.71,67.57 427.84,66.95 427.97,64.92 428.10,65.85 428.23,71.41 428.36,71.22 428.49,71.17 428.62,60.19 428.75,59.05 428.80,48.00 428.88,52.62 429.01,63.16 429.14,56.59 429.27,76.09 429.40,79.89 429.53,77.66 429.66,100.43 429.79,105.88 429.92,96.11 430.05,83.01 430.18,93.47 430.31,115.49 430.44,115.21 430.57,88.50 430.70,71.65 430.83,70.08 430.96,96.06 431.09,100.89 431.22,106.10 431.35,119.19 431.48,112.87 431.50,124.00 431.61,108.14 431.74,102.10 431.87,68.53 432.00,79.07 432.13,87.00 432.26,103.15 432.39,80.96 432.40,61.00 432.52,67.90 432.65,82.89 432.78,85.66 432.91,99.88 433.04,84.76 433.17,83.69 433.30,74.54 433.43,75.43 433.56,69.81 433.69,71.99 433.82,76.12 433.95,74.27 434.08,62.03 434.21,64.23 434.34,63.49 434.40,50.00 434.47,56.77 434.60,52.66 434.73,53.34 434.86,56.65 434.99,54.65 435.12,52.73 435.25,54.72 435.38,55.93 435.51,64.11 435.64,57.19 435.77,62.60 435.90,61.58 436.03,62.60 436.10,66.00 436.16,61.75 436.29,61.23 436.42,65.75 436.55,59.32 436.68,58.70 436.81,49.20 436.94,39.24 437.00,66.00 437.07,36.78 437.20,37.05 437.33,43.21 437.46,56.28 437.59,53.15 437.72,52.71 437.85,53.75 437.90,27.00 437.90,66.00 437.98,33.91 438.11,39.59 438.24,41.67 438.37,42.98 438.50,34.62 438.63,50.90 438.76,49.42 438.89,52.58 439.02,63.13 439.15,59.00 439.28,60.83 439.41,62.95 439.54,60.94 439.67,58.96 439.80,63.24 439.93,64.24 440.06,51.86 440.19,54.45 440.32,46.54 440.45,57.43 440.58,52.31 440.71,52.49 440.84,50.93 440.97,45.19 441.10,57.16 441.23,62.40 441.36,56.98 441.40,73.00 441.49,57.78 441.62,54.04 441.75,59.91 441.88,56.36 442.01,49.80 442.14,45.06 442.27,44.21 442.40,48.39 442.53,45.28 442.66,45.95 442.79,51.31 442.92,72.93 443.00,43.00 443.05,67.18 443.18,46.97 443.31,43.85 443.44,44.73 443.57,49.34 443.70,64.50 443.83,70.46 443.96,48.72 444.09,52.75 444.22,54.54 444.35,58.80 444.48,70.85 444.61,59.96 444.74,69.61 444.87,54.03 445.00,55.22 445.00,74.00 445.13,59.02 445.26,69.00 445.39,61.69 445.52,46.52 445.65,54.05 445.78,48.81 445.91,63.83 446.04,56.99 446.17,49.44 446.30,61.63 446.43,62.07 446.56,70.63 446.69,56.43 446.82,71.53 446.95,64.73 447.00,44.00 447.00,74.00 447.08,71.41 447.21,60.95 447.34,46.96 447.47,46.24 447.60,49.44 447.73,64.60 447.86,67.07 447.99,72.44 448.12,71.38 448.25,51.06 448.38,45.31 448.51,57.93 448.64,56.92 448.77,59.55 448.90,54.98 449.03,65.48 449.16,54.26 449.29,48.07 449.30,74.00 449.42,46.45 449.55,49.84 449.68,55.48 449.81,62.32 449.94,53.55 450.07,59.24 450.20,51.21 450.33,48.35 450.46,46.00 450.59,56.48 450.72,52.38 450.85,40.73 450.98,30.32 451.11,40.55 451.24,25.69 451.37,22.66 451.50,21.28 451.63,39.40 451.76,34.64 451.89,42.78 452.00,20.00 452.02,43.48 452.15,35.46 452.28,41.06 452.41,44.25 452.54,38.34 452.67,34.32 452.80,33.45 452.93,34.44 453.06,34.36 453.19,35.53 453.32,35.54 453.45,32.40 453.58,35.84 453.71,33.44 453.84,34.60 453.97,32.15 454.10,31.99 454.23,35.90 454.36,41.24 454.49,35.74 454.62,38.39 454.75,44.78 454.88,45.98 455.01,37.86 455.14,48.80 455.27,55.21 455.40,61.96 455.53,63.34 455.66,57.10 455.79,66.58 455.92,62.93 456.05,63.66 456.18,63.42 456.31,53.86 456.44,61.20 456.57,60.26 456.70,66.75 456.83,73.11 456.96,75.75 457.09,85.25 457.22,84.27 457.35,90.95 457.48,94.46 457.60,100.00 457.61,97.85 457.74,92.01 457.87,97.50 458.00,99.67 458.13,95.85 458.26,92.80 458.39,92.86 458.52,87.75 458.65,88.26 458.78,85.68 458.91,76.27 459.04,75.56 459.17,82.43 459.30,84.77 459.40,100.00 459.43,85.20 459.56,77.76 459.69,81.46 459.82,80.73 459.95,79.24 460.08,85.26 460.21,88.00 460.34,89.24 460.47,88.96 460.60,92.65 460.73,89.06 460.86,95.56 460.99,89.88 461.12,92.22 461.25,94.86 461.38,92.88 461.51,94.08 461.64,87.28 461.77,83.76 461.90,83.39 462.03,83.47 462.16,86.94 462.29,87.30 462.42,90.44 462.55,91.76 462.68,92.38 462.81,92.39 462.90,82.00 462.94,90.29 463.07,88.18 463.20,99.37 463.33,89.24 463.46,88.60 463.59,95.03 463.72,97.56 463.85,100.95 463.98,104.02 464.11,94.76 464.24,92.58 464.37,82.90 464.50,91.42 464.60,108.00 464.63,102.64 464.76,98.03 464.89,101.24 465.02,97.07 465.15,86.12 465.28,83.70 465.41,92.29 465.54,88.26 465.67,90.09 465.80,95.08 465.93,103.11 466.06,99.31 466.19,99.69 466.32,101.16 466.45,103.11 466.58,83.29 466.71,85.05 466.84,90.08 466.97,82.66 467.10,84.45 467.23,89.47 467.36,81.89 467.49,80.28 467.62,81.52 467.75,81.09 467.88,80.10 468.01,82.14 468.14,77.04 468.20,72.00 468.27,83.39 468.40,85.99 468.53,80.99 468.66,81.87 468.70,72.00 468.79,76.94 468.92,73.00 469.05,81.71 469.18,80.13 469.31,84.75 469.44,84.70 469.57,83.93 469.70,80.35 469.83,78.02 469.96,81.68 470.09,76.80 470.22,86.33 470.35,85.57 470.48,87.77 470.61,91.12 470.74,88.13 470.87,91.18 471.00,91.55 471.13,93.00 471.26,91.91 471.39,87.84 471.52,83.70 471.65,81.05 471.78,78.99 471.91,77.65 472.04,79.45 472.17,81.22 472.30,82.48 472.43,79.79 472.50,76.00 472.50,98.00 472.56,85.14 472.69,81.06 472.82,78.44 472.95,76.59 473.08,82.94 473.21,86.98 473.34,91.38 473.47,90.15 473.60,95.06 473.73,86.85 473.86,86.51 473.99,81.32 474.12,92.04 474.25,95.36 474.30,98.00 474.38,89.35 474.51,82.70 474.64,83.52 474.77,79.29 474.90,79.74 475.03,78.76 475.16,81.68 475.20,77.00 475.29,79.12 475.42,77.70 475.55,79.72 475.68,82.44 475.81,81.06 475.94,81.19 476.07,80.83 476.20,81.52 476.33,81.82 476.46,81.15 476.59,83.59 476.72,77.81 476.85,80.68 476.98,78.11 477.11,79.10 477.24,83.25 477.37,77.54 477.50,80.81 477.63,83.84 477.76,79.35 477.80,77.00 477.89,78.06 478.02,80.32 478.15,79.70 478.28,82.34 478.41,83.14 478.54,82.82 478.67,85.75 478.80,86.12 478.93,85.28 479.06,89.35 479.19,87.15 479.32,86.90 479.45,87.76 479.58,84.34 479.71,82.42 479.84,83.55 479.97,83.53 480.10,88.51 480.23,83.25 480.36,82.27 480.49,82.23 480.62,81.89 480.75,87.67 480.88,81.79 481.01,86.49 481.14,83.50 481.27,82.12 481.30,100.00 481.40,87.89 481.53,86.01 481.66,89.50 481.79,89.58 481.92,88.10 482.05,85.80 482.18,87.64 482.31,83.31 482.44,84.43 482.57,85.62 482.70,86.48 482.83,91.75 482.96,94.08 483.00,100.00 483.09,85.58 483.22,82.51 483.35,85.09 483.48,84.91 483.61,79.31 483.74,78.61 483.87,77.41 484.00,76.75 484.00,100.00 484.13,79.81 484.26,77.01 484.39,76.66 484.52,92.37 484.65,80.05 484.78,76.31 484.91,77.33 485.04,74.90 485.17,84.97 485.30,84.70 485.43,90.07 485.56,77.78 485.69,87.62 485.70,72.00 485.70,100.00 485.82,94.68 485.95,85.68 486.08,92.58 486.21,90.84 486.34,88.67 486.47,82.87 486.60,81.41 486.73,74.38 486.86,72.47 486.99,67.40 487.12,65.23 487.25,62.91 487.38,60.57 487.50,56.00 487.51,69.04 487.64,75.80 487.77,68.12 487.90,76.81 488.03,64.61 488.16,63.35 488.29,64.37 488.30,84.00 488.42,72.19 488.55,76.15 488.68,77.98 488.81,82.30 488.94,81.67 489.07,78.22 489.20,72.65 489.33,65.27 489.46,64.51 489.59,69.77 489.72,71.19 489.85,75.84 489.98,78.89 490.11,80.38 490.24,79.80 490.37,74.56 490.50,79.50 490.63,72.79 490.76,71.58 490.89,63.81 491.00,63.00 491.02,66.90 491.15,66.93 491.28,74.55 491.41,67.00 491.54,68.71 491.67,68.14 491.80,63.69 491.93,71.18 492.06,68.78 492.19,77.00 492.32,70.65 492.45,66.22 492.58,71.97 492.71,74.98 492.84,79.74 492.97,80.06 493.00,83.00 493.10,78.02 493.23,71.92 493.36,80.80 493.49,81.99 493.62,70.41 493.75,68.78 493.88,74.27 494.01,82.44 494.14,73.61 494.27,81.14 494.40,79.62 494.53,75.45 494.66,67.59 494.79,70.85 494.92,67.08 495.05,65.72 495.18,67.52 495.31,66.48 495.44,71.66 495.57,80.09 495.70,79.80 495.83,78.89 495.96,72.58 496.09,66.56 496.22,69.57 496.35,72.84 496.48,72.69 496.61,77.80 496.74,79.09 496.87,73.40 497.00,59.64 497.00,50.00 497.13,56.43 497.26,56.29 497.39,75.61 497.52,76.44 497.65,71.24 497.78,73.29 497.91,68.31 498.04,72.72 498.17,69.88 498.30,72.25 498.43,67.55 498.56,71.47 498.69,78.34 498.82,64.55 498.90,50.00 498.90,81.00 498.95,56.80 499.08,70.11 499.21,70.87 499.34,77.44 499.47,73.42 499.60,75.82 499.73,71.73 499.86,62.33 499.99,67.61 500.12,63.18 500.25,60.75 500.38,59.62 500.51,64.14 500.64,58.62 500.77,58.30 500.90,63.64 501.03,59.92 501.16,59.58 501.29,45.63 501.42,36.25 501.55,35.46 501.68,36.31 501.81,36.28 501.94,47.25 502.07,44.65 502.20,30.57 502.33,23.92 502.46,23.62 502.59,30.30 502.72,25.39 502.85,22.87 502.98,22.28 503.11,21.46 503.20,20.00 503.24,21.41 503.37,20.92 503.50,24.13 503.63,25.40 503.76,24.28 503.89,25.28 504.02,21.45 504.15,24.45 504.28,26.90 504.41,28.31 504.54,23.94 504.67,31.18 504.80,27.26 504.93,26.33 505.06,28.54 505.19,31.82 505.32,28.84 505.45,30.69 505.58,30.97 505.71,30.74 505.84,35.28 505.97,41.97 506.10,43.94 506.23,42.94 506.36,36.58 506.49,44.46 506.62,43.56 506.75,40.46 506.88,42.36 507.01,50.47 507.14,50.21 507.27,45.15 507.40,57.49 507.53,60.54 507.66,62.09 507.79,60.93 507.92,50.54 508.05,51.66 508.18,52.23 508.31,63.40 508.44,60.80 508.57,58.94 508.70,57.37 508.70,68.00 508.83,55.84 508.96,53.51 509.09,53.47 509.22,51.01 509.35,61.45 509.48,62.62 509.61,64.45 509.74,58.21 509.87,60.37 510.00,54.22 510.13,41.16 510.26,42.97 510.39,36.53 510.52,46.07 510.65,39.07 510.78,45.46 510.91,44.43 511.04,50.87 511.17,47.19 511.30,46.66 511.43,45.90 511.56,50.07 511.69,49.64 511.70,30.00 511.82,48.63 511.95,44.15 512.08,33.46 512.21,44.60 512.34,52.81 512.47,46.07 512.60,50.74 512.73,53.08 512.86,50.53 512.99,48.28 513.12,53.29 513.25,44.40 513.38,41.20 513.51,41.43 513.64,42.15 513.77,41.37 513.90,43.73 514.03,48.09 514.16,41.77 514.29,43.23 514.42,43.71 514.50,66.00 514.55,55.35 514.68,44.49 514.81,43.52 514.94,49.16 515.07,47.32 515.20,45.48 515.33,44.88 515.46,47.64 515.59,47.83 515.72,47.74 515.85,47.59 515.98,50.75 516.11,52.43 516.24,49.70 516.37,51.71 516.50,56.51 516.63,57.96 516.76,50.58 516.89,52.64 517.02,48.81 517.15,47.36 517.28,58.09 517.30,46.00 517.41,57.68 517.54,66.33 517.67,63.92 517.80,63.00 517.93,55.20 518.06,61.23 518.19,59.42 518.32,63.09 518.45,65.20 518.58,67.75 518.71,68.73 518.84,67.30 518.97,66.31 519.10,60.95 519.23,51.92 519.36,56.09 519.49,70.45 519.60,72.00 519.62,67.48 519.75,61.84 519.88,64.73 520.01,57.44 520.14,50.77 520.27,56.82 520.40,59.42 520.53,58.18 520.66,63.49 520.79,56.73 520.92,60.72 521.05,58.48 521.18,59.67 521.30,72.00 521.31,68.20 521.44,65.69 521.57,67.47 521.70,65.33 521.83,58.95 521.96,64.21 522.09,54.99 522.20,47.00 522.22,54.44 522.35,59.40 522.48,49.17 522.61,56.55 522.74,63.55 522.87,61.98 523.00,62.93 523.13,63.38 523.26,61.26 523.39,65.46 523.52,62.13 523.65,61.11 523.78,62.52 523.91,64.31 524.04,61.03 524.17,52.27 524.30,52.27 524.43,51.96 524.56,52.13 524.69,47.11 524.82,49.34 524.95,51.03 525.08,51.24 525.21,58.13 525.34,48.45 525.47,46.27 525.60,48.96 525.73,49.94 525.86,39.46 525.99,38.15 526.12,41.58 526.25,30.51 526.38,32.53 526.51,35.65 526.64,29.36 526.77,27.29 526.80,22.00 526.90,31.76 527.03,29.35 527.16,30.23 527.29,25.53 527.42,33.14 527.55,33.77 527.68,37.71 527.81,32.15 527.94,32.78 528.07,43.29 528.20,42.72 528.33,41.16 528.46,44.50 528.59,47.80 528.72,38.10 528.85,38.61 528.98,40.27 529.11,41.59 529.24,44.68 529.37,43.33 529.50,43.00 529.63,45.50 529.76,42.97 529.89,43.52 530.02,43.01 530.15,44.84 530.28,45.71 530.41,45.19 530.54,45.18 530.67,45.97 530.80,48.60 530.93,51.16 531.06,45.74 531.19,51.86 531.32,46.99 531.45,50.75 531.58,47.44 531.71,51.36 531.84,57.38 531.97,47.00 532.10,51.12 532.23,53.01 532.36,50.71 532.49,53.26 532.62,50.76 532.75,51.89 532.88,46.53 533.01,51.83 533.14,55.75 533.27,60.09 533.40,56.34 533.53,64.59 533.66,57.33 533.79,57.14 533.92,55.23 534.05,53.64 534.18,58.25" fill="none" stroke="#ff8c00" stroke-width="1.25" stroke-linejoin="round"/>
<polyline points="321.70,111.40 339.60,108.60" fill="none" stroke="#5d80ea" stroke-width="1.2" stroke-linejoin="round"/>
<polyline points="339.60,122.30 362.70,104.40" fill="none" stroke="#5d80ea" stroke-width="1.2" stroke-linejoin="round"/>
<polyline points="362.70,119.30 413.30,112.50" fill="none" stroke="#5d80ea" stroke-width="1.2" stroke-linejoin="round"/>
<polyline points="413.30,117.50 431.80,64.60" fill="none" stroke="#5d80ea" stroke-width="1.2" stroke-linejoin="round"/>
<polyline points="431.20,73.80 451.60,48.00" fill="none" stroke="#5d80ea" stroke-width="1.2" stroke-linejoin="round"/>
<polyline points="451.60,31.70 464.60,112.00" fill="none" stroke="#5d80ea" stroke-width="1.2" stroke-linejoin="round"/>
<polyline points="464.60,92.80 491.80,72.60" fill="none" stroke="#5d80ea" stroke-width="1.2" stroke-linejoin="round"/>
<polyline points="491.00,61.00 534.50,48.90" fill="none" stroke="#5d80ea" stroke-width="1.2" stroke-linejoin="round"/>
</g>
<g clip-path="url(#cc)">
<path d="M37.80,373.70 C37.95,372.80 38.30,365.88 38.70,368.30 C39.10,370.72 39.70,388.90 40.20,388.20 C40.70,387.50 41.18,365.30 41.70,364.10 C42.22,362.90 42.73,382.10 43.30,381.00 C43.87,379.90 44.57,357.80 45.10,357.50 C45.63,357.20 46.00,378.40 46.50,379.20 C47.00,380.00 47.53,363.42 48.10,362.30 C48.67,361.18 49.40,372.30 49.90,372.50 C50.40,372.70 50.90,365.00 51.10,363.50 L52.90,388.80 C53.10,384.68 53.80,367.23 54.10,364.10 C54.37,361.28 54.43,370.81 54.70,370.00 C55.00,369.10 55.50,359.88 55.90,358.70 C56.30,357.52 56.70,362.02 57.10,362.90 C57.50,363.78 57.90,361.98 58.30,364.00 C58.70,366.02 59.10,374.28 59.50,375.00 C59.90,375.72 60.23,367.10 60.70,368.30 C61.17,369.50 61.60,382.70 62.30,382.20 C63.00,381.70 64.17,368.42 64.90,365.30 C65.63,362.18 66.20,363.72 66.70,363.50 C67.20,363.28 67.48,361.28 67.90,364.00 C68.32,366.72 68.92,377.47 69.20,379.80 C69.38,381.28 69.53,378.30 69.60,378.00 L69.70,260.80 C69.82,259.98 70.09,254.98 70.40,255.90 C70.85,257.22 71.77,269.70 72.40,268.70 C73.03,267.70 73.90,253.03 74.20,249.90 L75.70,275.60 C75.97,271.73 76.78,252.98 77.30,252.40 C77.82,251.82 78.27,272.18 78.80,272.10 C79.33,272.02 80.22,255.27 80.50,251.90 L82.00,279.00 C82.30,274.98 83.50,258.92 83.80,254.90 L85.20,283.00 C85.53,277.90 86.87,257.50 87.20,252.40 L88.50,278.10 C88.78,273.98 89.70,254.97 90.20,253.40 C90.70,251.83 90.93,269.03 91.50,268.70 C92.07,268.37 92.66,252.10 93.60,251.40 C94.70,250.58 97.12,263.30 98.10,263.80 C98.73,264.12 99.10,255.48 99.50,254.40 C99.90,253.32 100.05,257.82 100.50,257.30 C101.00,256.72 101.83,249.50 102.50,250.90 C103.17,252.30 103.88,264.75 104.50,265.70 C105.12,266.65 105.62,255.28 106.20,256.60 C106.78,257.92 107.47,273.63 108.00,273.60 C108.53,273.57 108.88,256.65 109.40,256.40 C109.92,256.15 110.55,272.10 111.10,272.10 C111.65,272.10 112.15,256.15 112.70,256.40 C113.25,256.65 113.85,273.60 114.40,273.60 C114.95,273.60 115.47,257.55 116.00,256.40 C116.53,255.25 117.05,266.87 117.60,266.70 C118.15,266.53 118.77,254.08 119.30,255.40 C119.83,256.72 120.25,274.20 120.80,274.60 C121.35,275.00 122.07,257.72 122.60,257.80 C123.13,257.88 123.48,275.27 124.00,275.10 C124.52,274.93 125.12,257.87 125.70,256.80 C126.28,255.73 126.97,268.20 127.50,268.70 C128.03,269.20 128.37,259.38 128.90,259.80 C129.43,260.22 130.17,270.87 130.70,271.20 C131.23,271.53 131.62,262.88 132.10,261.80 C132.58,260.72 133.02,265.03 133.60,264.70 C134.18,264.37 135.02,259.30 135.60,259.80 C136.18,260.30 136.60,267.20 137.10,267.70 C137.60,268.20 138.12,260.42 138.60,262.80 C139.08,265.18 139.48,281.68 140.00,282.00 C140.52,282.32 141.15,264.20 141.70,264.70 C142.25,265.20 142.75,284.50 143.30,285.00 C143.85,285.50 144.50,269.08 145.00,267.70 C145.50,266.32 145.73,277.20 146.30,276.70 C146.87,276.20 147.82,265.30 148.40,264.70 C148.98,264.10 149.37,272.72 149.80,273.10 C150.23,273.48 150.55,266.00 151.00,267.00 C151.45,268.00 152.10,277.88 152.50,279.10 C152.90,280.32 153.00,274.94 153.40,274.30 C153.97,273.40 155.18,274.92 155.90,273.70 C156.62,272.48 157.25,267.28 157.70,267.00 C158.10,266.75 158.30,271.78 158.60,272.00 C158.90,272.22 159.23,267.80 159.50,268.30 C159.77,268.80 159.90,275.30 160.20,275.00 C160.50,274.70 160.82,265.82 161.30,266.50 C161.78,267.18 162.50,276.80 163.10,279.10 C163.70,281.40 164.50,279.48 164.90,280.30 C165.17,280.85 165.23,284.81 165.50,284.00 C165.80,283.10 166.16,274.33 166.70,274.90 C167.27,275.50 168.25,288.20 168.90,287.60 C169.55,287.00 170.00,271.20 170.60,271.30 C171.20,271.40 171.90,288.40 172.50,288.20 C173.10,288.00 173.65,269.70 174.20,270.10 C174.75,270.50 175.28,290.20 175.80,290.60 C176.32,291.00 176.80,272.70 177.30,272.50 C177.80,272.30 178.25,290.40 178.80,289.40 C179.35,288.40 180.10,266.90 180.60,266.50 C181.10,266.10 181.33,286.50 181.80,287.00 C182.27,287.50 182.83,268.50 183.40,269.50 C183.97,270.50 184.57,293.60 185.20,293.00 C185.83,292.40 186.70,268.23 187.20,265.90 C187.65,263.80 187.75,279.62 188.20,279.00 C188.65,278.38 189.35,261.62 189.90,262.20 C190.45,262.78 191.05,281.37 191.50,282.50 C191.95,283.63 192.10,268.87 192.60,269.00 C193.10,269.13 193.98,283.82 194.50,283.30 C195.02,282.78 195.16,267.58 195.70,265.90 C196.62,263.05 198.06,266.16 200.00,266.20 C208.60,266.37 239.42,266.78 247.30,266.90" fill="none" stroke="#ff8c00" stroke-width="1.1" stroke-linejoin="round"/>
<polyline points="37.70,320.50 246.60,246.50" fill="none" stroke="#5d80ea" stroke-width="1.2" stroke-linejoin="round"/>
</g>
<g clip-path="url(#cd)">
<path d="M319.40,372.00 C319.71,374.53 320.96,389.72 321.50,388.90 C322.04,388.07 322.55,367.50 323.00,366.50 C323.45,365.50 323.98,383.10 324.50,382.20 C325.02,381.30 325.96,360.77 326.50,360.50 C327.04,360.23 327.68,379.86 328.10,380.40 C328.52,380.94 328.94,364.91 329.30,364.10 C329.66,363.29 330.14,374.72 330.50,375.00 C330.86,375.28 331.35,365.85 331.70,366.00 C332.05,366.15 332.49,375.70 332.80,376.00 C333.12,376.30 333.51,365.98 333.80,368.00 C334.09,370.02 334.30,389.77 334.70,389.50 C335.15,389.20 336.31,370.17 336.80,366.00 C337.30,361.83 337.58,361.77 338.00,361.70 C338.42,361.62 339.06,363.32 339.60,365.50 C340.14,367.68 341.12,375.40 341.60,376.20 C342.08,377.00 342.34,369.72 342.80,370.80 C343.26,371.88 344.01,383.77 344.70,383.40 C345.39,383.02 346.72,370.91 347.40,368.30 C348.07,365.69 348.75,366.05 349.20,366.00 C349.65,365.95 350.04,365.75 350.40,368.00 C350.76,370.25 351.42,379.05 351.60,381.00 L352.20,300.00 L352.70,264.80 C352.95,266.57 353.86,277.41 354.40,276.60 C354.94,275.79 355.79,258.37 356.30,259.40 C356.81,260.43 357.28,283.21 357.80,283.50 C358.32,283.79 359.28,261.88 359.80,261.30 C360.32,260.72 360.85,279.53 361.30,279.60 C361.75,279.68 362.32,260.76 362.80,261.80 C363.28,262.84 363.99,286.20 364.50,286.50 C365.01,286.80 365.94,267.20 366.20,263.80 L367.90,290.40 L369.70,261.80 C369.91,265.43 370.67,285.93 371.10,286.00 C371.54,286.07 372.11,263.63 372.60,262.30 C373.10,260.97 373.83,277.39 374.40,277.10 C374.97,276.81 375.78,262.25 376.40,260.40 C377.01,258.55 377.76,262.88 378.50,264.80 C379.24,266.72 380.55,273.35 381.30,273.20 C382.05,273.05 383.05,264.91 383.50,263.80 C383.86,262.91 383.99,266.31 384.30,265.80 C384.62,265.29 385.21,260.70 385.60,260.40 C385.99,260.10 386.52,261.66 386.90,263.80 C387.27,265.94 387.65,274.47 388.10,274.70 C388.55,274.93 389.40,264.26 389.90,265.30 C390.39,266.34 390.89,281.60 391.40,281.60 C391.91,281.60 392.81,265.45 393.30,265.30 C393.80,265.15 394.24,280.60 394.70,280.60 C395.16,280.60 395.92,265.15 396.40,265.30 C396.88,265.45 397.38,281.60 397.90,281.60 C398.42,281.60 399.42,266.35 399.90,265.30 C400.38,264.25 400.67,274.68 401.10,274.60 C401.54,274.53 402.28,263.62 402.80,264.80 C403.32,265.99 404.08,282.20 404.60,282.50 C405.12,282.80 405.79,266.73 406.30,266.80 C406.81,266.88 407.49,283.15 408.00,283.00 C408.51,282.85 409.22,266.76 409.70,265.80 C410.18,264.84 410.72,276.17 411.20,276.60 C411.68,277.04 412.38,268.32 412.90,268.70 C413.42,269.07 414.22,278.88 414.70,279.10 C415.18,279.33 415.67,271.31 416.10,270.20 C416.54,269.09 417.08,271.93 417.60,271.70 C418.12,271.47 419.03,267.96 419.60,268.70 C420.17,269.44 420.89,276.23 421.40,276.60 C421.91,276.98 422.53,269.19 423.00,271.20 C423.47,273.21 424.00,289.70 424.50,290.00 C425.00,290.30 425.78,272.84 426.30,273.20 C426.82,273.56 427.50,291.96 428.00,292.40 C428.50,292.83 429.09,277.29 429.60,276.10 C430.11,274.92 430.86,284.94 431.40,284.50 C431.94,284.06 432.75,273.94 433.20,273.20 C433.65,272.46 433.93,279.17 434.40,279.60 C434.87,280.04 435.79,274.90 436.30,276.10 C436.81,277.30 437.32,286.61 437.80,287.60 C438.28,288.59 438.98,283.84 439.50,282.70 C440.02,281.56 440.79,281.03 441.30,280.00 C441.81,278.97 442.44,275.10 442.90,275.80 C443.36,276.50 443.89,284.70 444.40,284.70 C444.91,284.70 445.87,275.67 446.30,275.80 C446.74,275.94 446.93,283.92 447.30,285.60 C447.68,287.28 448.28,286.10 448.80,287.00 C449.32,287.90 450.23,292.32 450.80,291.60 C451.37,290.88 452.05,281.69 452.60,282.20 C453.16,282.71 453.96,295.38 454.50,295.00 C455.04,294.62 455.69,279.62 456.20,279.70 C456.71,279.77 457.38,295.73 457.90,295.50 C458.42,295.27 459.22,277.82 459.70,278.20 C460.18,278.57 460.59,297.62 461.10,298.00 C461.61,298.38 462.58,280.93 463.10,280.70 C463.62,280.47 464.11,297.38 464.60,296.50 C465.10,295.62 465.89,275.18 466.40,274.80 C466.91,274.43 467.53,293.26 468.00,294.00 C468.47,294.74 469.00,278.80 469.50,279.70 C470.00,280.60 470.73,300.74 471.30,300.00 C471.87,299.26 472.84,276.66 473.30,274.80 C473.76,272.94 473.96,288.12 474.40,287.60 C474.83,287.08 475.68,271.00 476.20,271.30 C476.72,271.60 477.54,287.70 477.90,289.60 C478.21,291.27 478.29,283.80 478.60,284.00 C478.93,284.21 479.74,291.90 480.10,291.00 C480.46,290.10 480.67,280.56 481.00,278.00 C481.33,275.44 481.93,274.42 482.30,273.90 C482.68,273.38 482.96,274.48 483.50,274.50 C491.44,274.74 527.45,275.35 535.20,275.50" fill="none" stroke="#ff8c00" stroke-width="1.2" stroke-linejoin="round"/>
<polyline points="319.00,375.00 337.50,373.20" fill="none" stroke="#5d80ea" stroke-width="1.2" stroke-linejoin="round"/>
<polyline points="337.50,368.00 351.30,373.20 352.20,247.90 352.70,269.20 370.80,275.80" fill="none" stroke="#5d80ea" stroke-width="1.2" stroke-linejoin="round"/>
<polyline points="370.80,268.50 397.40,269.70" fill="none" stroke="#5d80ea" stroke-width="1.2" stroke-linejoin="round"/>
<polyline points="397.40,272.20 424.00,273.40" fill="none" stroke="#5d80ea" stroke-width="1.2" stroke-linejoin="round"/>
<polyline points="424.00,279.60 470.50,288.10" fill="none" stroke="#5d80ea" stroke-width="1.2" stroke-linejoin="round"/>
<polyline points="470.50,279.20 535.20,273.30" fill="none" stroke="#5d80ea" stroke-width="1.2" stroke-linejoin="round"/>
</g>
<rect x="30" y="5.3" width="227.50" height="161.15" fill="none" stroke="#7a7a7a" stroke-width="1.05"/>
<line x1="27.80" y1="140.60" x2="30.00" y2="140.60" stroke="#7a7a7a" stroke-width="0.9"/>
<text x="25.80" y="142.62" font-size="5.6" text-anchor="end">0.100</text>
<line x1="27.80" y1="110.40" x2="30.00" y2="110.40" stroke="#7a7a7a" stroke-width="0.9"/>
<text x="25.80" y="112.42" font-size="5.6" text-anchor="end">0.105</text>
<line x1="27.80" y1="80.20" x2="30.00" y2="80.20" stroke="#7a7a7a" stroke-width="0.9"/>
<text x="25.80" y="82.22" font-size="5.6" text-anchor="end">0.110</text>
<line x1="27.80" y1="50.00" x2="30.00" y2="50.00" stroke="#7a7a7a" stroke-width="0.9"/>
<text x="25.80" y="52.02" font-size="5.6" text-anchor="end">0.115</text>
<line x1="27.80" y1="19.80" x2="30.00" y2="19.80" stroke="#7a7a7a" stroke-width="0.9"/>
<text x="25.80" y="21.82" font-size="5.6" text-anchor="end">0.120</text>
<line x1="45.50" y1="166.50" x2="45.50" y2="168.70" stroke="#7a7a7a" stroke-width="0.9"/>
<text transform="translate(44.30,174.44) rotate(-30)" font-size="5.6" text-anchor="end">2019-03</text>
<line x1="83.37" y1="166.50" x2="83.37" y2="168.70" stroke="#7a7a7a" stroke-width="0.9"/>
<text transform="translate(82.17,174.44) rotate(-30)" font-size="5.6" text-anchor="end">2019-04</text>
<line x1="120.02" y1="166.50" x2="120.02" y2="168.70" stroke="#7a7a7a" stroke-width="0.9"/>
<text transform="translate(118.82,174.44) rotate(-30)" font-size="5.6" text-anchor="end">2019-05</text>
<line x1="157.89" y1="166.50" x2="157.89" y2="168.70" stroke="#7a7a7a" stroke-width="0.9"/>
<text transform="translate(156.69,174.44) rotate(-30)" font-size="5.6" text-anchor="end">2019-06</text>
<line x1="194.54" y1="166.50" x2="194.54" y2="168.70" stroke="#7a7a7a" stroke-width="0.9"/>
<text transform="translate(193.34,174.44) rotate(-30)" font-size="5.6" text-anchor="end">2019-07</text>
<line x1="232.40" y1="166.50" x2="232.40" y2="168.70" stroke="#7a7a7a" stroke-width="0.9"/>
<text transform="translate(231.20,174.44) rotate(-30)" font-size="5.6" text-anchor="end">2019-08</text>
<rect x="31.5" y="8.6" width="60.60" height="17.40" rx="1" fill="#fff" fill-opacity="0.8" stroke="#ddd" stroke-width="0.6"/>
<line x1="34.5" y1="12.7" x2="46.5" y2="12.7" stroke="#ff8c00" stroke-width="1.1"/>
<line x1="34.5" y1="21.2" x2="46.5" y2="21.2" stroke="#5d80ea" stroke-width="1.1"/>
<text x="51" y="14.81" font-size="5.85">Ground Truth</text>
<text x="51" y="23.31" font-size="5.85">Prediction</text>
<rect x="311.6" y="14.0" width="233.30" height="153.00" fill="none" stroke="#7a7a7a" stroke-width="1.05"/>
<line x1="309.20" y1="141.80" x2="311.60" y2="141.80" stroke="#7a7a7a" stroke-width="0.9"/>
<text x="306.80" y="144.07" font-size="6.3" text-anchor="end">0.100</text>
<line x1="309.20" y1="113.30" x2="311.60" y2="113.30" stroke="#7a7a7a" stroke-width="0.9"/>
<text x="306.80" y="115.57" font-size="6.3" text-anchor="end">0.105</text>
<line x1="309.20" y1="84.80" x2="311.60" y2="84.80" stroke="#7a7a7a" stroke-width="0.9"/>
<text x="306.80" y="87.07" font-size="6.3" text-anchor="end">0.110</text>
<line x1="309.20" y1="56.30" x2="311.60" y2="56.30" stroke="#7a7a7a" stroke-width="0.9"/>
<text x="306.80" y="58.57" font-size="6.3" text-anchor="end">0.115</text>
<line x1="309.20" y1="27.80" x2="311.60" y2="27.80" stroke="#7a7a7a" stroke-width="0.9"/>
<text x="306.80" y="30.07" font-size="6.3" text-anchor="end">0.120</text>
<line x1="327.10" y1="167.00" x2="327.10" y2="169.40" stroke="#7a7a7a" stroke-width="0.9"/>
<text transform="translate(325.90,175.68) rotate(-30)" font-size="6.45" text-anchor="end">2019-03</text>
<line x1="366.02" y1="167.00" x2="366.02" y2="169.40" stroke="#7a7a7a" stroke-width="0.9"/>
<text transform="translate(364.82,175.68) rotate(-30)" font-size="6.45" text-anchor="end">2019-04</text>
<line x1="403.69" y1="167.00" x2="403.69" y2="169.40" stroke="#7a7a7a" stroke-width="0.9"/>
<text transform="translate(402.49,175.68) rotate(-30)" font-size="6.45" text-anchor="end">2019-05</text>
<line x1="442.62" y1="167.00" x2="442.62" y2="169.40" stroke="#7a7a7a" stroke-width="0.9"/>
<text transform="translate(441.42,175.68) rotate(-30)" font-size="6.45" text-anchor="end">2019-06</text>
<line x1="480.28" y1="167.00" x2="480.28" y2="169.40" stroke="#7a7a7a" stroke-width="0.9"/>
<text transform="translate(479.08,175.68) rotate(-30)" font-size="6.45" text-anchor="end">2019-07</text>
<line x1="519.21" y1="167.00" x2="519.21" y2="169.40" stroke="#7a7a7a" stroke-width="0.9"/>
<text transform="translate(518.01,175.68) rotate(-30)" font-size="6.45" text-anchor="end">2019-08</text>
<rect x="314.8" y="16.8" width="67.50" height="22.00" rx="1" fill="#fff" fill-opacity="0.8" stroke="#ddd" stroke-width="0.6"/>
<line x1="317" y1="22.2" x2="330.4" y2="22.2" stroke="#ff8c00" stroke-width="1.1"/>
<line x1="317" y1="32.0" x2="330.4" y2="32.0" stroke="#5d80ea" stroke-width="1.1"/>
<text x="335.5" y="24.59" font-size="6.65">Ground Truth</text>
<text x="335.5" y="34.39" font-size="6.65">Prediction</text>
<rect x="27.6" y="239.6" width="229.70" height="156.70" fill="none" stroke="#7a7a7a" stroke-width="1.05"/>
<line x1="25.40" y1="249.04" x2="27.60" y2="249.04" stroke="#7a7a7a" stroke-width="0.9"/>
<text x="23.40" y="251.02" font-size="5.5" text-anchor="end">0.1</text>
<line x1="25.40" y1="267.40" x2="27.60" y2="267.40" stroke="#7a7a7a" stroke-width="0.9"/>
<text x="23.40" y="269.38" font-size="5.5" text-anchor="end">0.0</text>
<line x1="25.40" y1="285.76" x2="27.60" y2="285.76" stroke="#7a7a7a" stroke-width="0.9"/>
<text x="23.40" y="287.74" font-size="5.5" text-anchor="end">−0.1</text>
<line x1="25.40" y1="304.12" x2="27.60" y2="304.12" stroke="#7a7a7a" stroke-width="0.9"/>
<text x="23.40" y="306.10" font-size="5.5" text-anchor="end">−0.2</text>
<line x1="25.40" y1="322.48" x2="27.60" y2="322.48" stroke="#7a7a7a" stroke-width="0.9"/>
<text x="23.40" y="324.46" font-size="5.5" text-anchor="end">−0.3</text>
<line x1="25.40" y1="340.84" x2="27.60" y2="340.84" stroke="#7a7a7a" stroke-width="0.9"/>
<text x="23.40" y="342.82" font-size="5.5" text-anchor="end">−0.4</text>
<line x1="25.40" y1="359.20" x2="27.60" y2="359.20" stroke="#7a7a7a" stroke-width="0.9"/>
<text x="23.40" y="361.18" font-size="5.5" text-anchor="end">−0.5</text>
<line x1="25.40" y1="377.56" x2="27.60" y2="377.56" stroke="#7a7a7a" stroke-width="0.9"/>
<text x="23.40" y="379.54" font-size="5.5" text-anchor="end">−0.6</text>
<line x1="25.40" y1="395.92" x2="27.60" y2="395.92" stroke="#7a7a7a" stroke-width="0.9"/>
<text x="23.40" y="397.90" font-size="5.5" text-anchor="end">−0.7</text>
<line x1="70.40" y1="396.30" x2="70.40" y2="398.50" stroke="#7a7a7a" stroke-width="0.9"/>
<text transform="translate(69.20,404.18) rotate(-30)" font-size="5.5" text-anchor="end">2019-07-01</text>
<line x1="115.45" y1="396.30" x2="115.45" y2="398.50" stroke="#7a7a7a" stroke-width="0.9"/>
<text transform="translate(114.25,404.18) rotate(-30)" font-size="5.5" text-anchor="end">2019-07-15</text>
<line x1="170.16" y1="396.30" x2="170.16" y2="398.50" stroke="#7a7a7a" stroke-width="0.9"/>
<text transform="translate(168.96,404.18) rotate(-30)" font-size="5.5" text-anchor="end">2019-08-01</text>
<line x1="215.21" y1="396.30" x2="215.21" y2="398.50" stroke="#7a7a7a" stroke-width="0.9"/>
<text transform="translate(214.01,404.18) rotate(-30)" font-size="5.5" text-anchor="end">2019-08-15</text>
<rect x="195.7" y="375.1" width="57.90" height="18.40" rx="1" fill="#fff" fill-opacity="0.8" stroke="#ddd" stroke-width="0.6"/>
<line x1="197.9" y1="379.3" x2="210" y2="379.3" stroke="#ff8c00" stroke-width="1.1"/>
<line x1="197.9" y1="387.8" x2="210" y2="387.8" stroke="#5d80ea" stroke-width="1.1"/>
<text x="214.2" y="381.37" font-size="5.75">Ground Truth</text>
<text x="214.2" y="389.87" font-size="5.75">Prediction</text>
<rect x="308.6" y="241.5" width="237.20" height="155.50" fill="none" stroke="#7a7a7a" stroke-width="1.05"/>
<line x1="306.20" y1="241.40" x2="308.60" y2="241.40" stroke="#7a7a7a" stroke-width="0.9"/>
<text x="303.80" y="243.67" font-size="6.3" text-anchor="end">0.2</text>
<line x1="306.20" y1="276.00" x2="308.60" y2="276.00" stroke="#7a7a7a" stroke-width="0.9"/>
<text x="303.80" y="278.27" font-size="6.3" text-anchor="end">0.0</text>
<line x1="306.20" y1="310.60" x2="308.60" y2="310.60" stroke="#7a7a7a" stroke-width="0.9"/>
<text x="303.80" y="312.87" font-size="6.3" text-anchor="end">−0.2</text>
<line x1="306.20" y1="345.20" x2="308.60" y2="345.20" stroke="#7a7a7a" stroke-width="0.9"/>
<text x="303.80" y="347.47" font-size="6.3" text-anchor="end">−0.4</text>
<line x1="306.20" y1="379.80" x2="308.60" y2="379.80" stroke="#7a7a7a" stroke-width="0.9"/>
<text x="303.80" y="382.07" font-size="6.3" text-anchor="end">−0.6</text>
<line x1="352.50" y1="397.00" x2="352.50" y2="399.40" stroke="#7a7a7a" stroke-width="0.9"/>
<text transform="translate(351.30,405.74) rotate(-30)" font-size="6.55" text-anchor="end">2019-07-01</text>
<line x1="399.23" y1="397.00" x2="399.23" y2="399.40" stroke="#7a7a7a" stroke-width="0.9"/>
<text transform="translate(398.03,405.74) rotate(-30)" font-size="6.55" text-anchor="end">2019-07-15</text>
<line x1="455.98" y1="397.00" x2="455.98" y2="399.40" stroke="#7a7a7a" stroke-width="0.9"/>
<text transform="translate(454.78,405.74) rotate(-30)" font-size="6.55" text-anchor="end">2019-08-01</text>
<line x1="502.71" y1="397.00" x2="502.71" y2="399.40" stroke="#7a7a7a" stroke-width="0.9"/>
<text transform="translate(501.51,405.74) rotate(-30)" font-size="6.55" text-anchor="end">2019-08-15</text>
<rect x="473.9" y="244.8" width="68.70" height="21.80" rx="1" fill="#fff" fill-opacity="0.8" stroke="#ddd" stroke-width="0.6"/>
<line x1="476.1" y1="249.9" x2="490" y2="249.9" stroke="#ff8c00" stroke-width="1.1"/>
<line x1="476.1" y1="259.9" x2="490" y2="259.9" stroke="#5d80ea" stroke-width="1.1"/>
<text x="494.9" y="252.37" font-size="6.85">Ground Truth</text>
<text x="494.9" y="262.37" font-size="6.85">Prediction</text>
<text x="3.6" y="213.8" class="lab">(<tspan class="lb">a</tspan>)</text>
<text x="286.6" y="213.8" class="lab">(<tspan class="lb">b</tspan>)</text>
<text x="3.6" y="448" class="lab">(<tspan class="lb">c</tspan>)</text>
<text x="286.7" y="448" class="lab">(<tspan class="lb">d</tspan>)</text>
</svg></body></html>
